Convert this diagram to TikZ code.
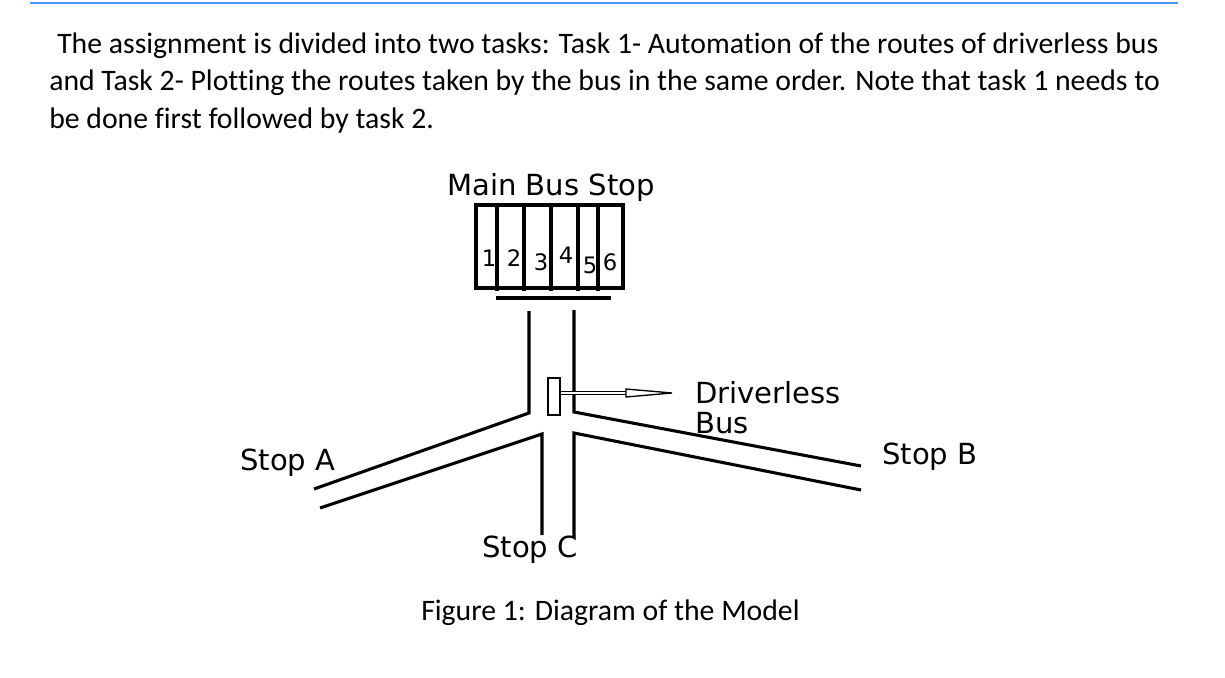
\documentclass[tikz,border=0pt]{standalone}
\usepackage{fontspec}
\setmainfont[Ligatures=NoCommon]{Carlito}
\newfontfamily\lab{DejaVu Sans}
\usetikzlibrary{arrows.meta}
\begin{document}
\begin{tikzpicture}[x=0.75pt,y=-0.75pt,
  road/.style={line width=2.3pt},
  body/.style={anchor=west,inner sep=0pt,font=\fontsize{22.3}{27}\selectfont},
  lbl/.style={font=\lab\fontsize{21.8}{24}\selectfont,inner sep=0pt},
  num/.style={font=\lab\fontsize{17}{19}\selectfont,inner sep=0pt}]
\useasboundingbox (0,0) rectangle (1225,678);
\draw[color=blue!60!cyan!70,line width=1pt] (30,3) -- (1178,3);
\node[body] (t1) at (57,46) {The assignment is divided into two tasks: Task 1- Automation of the routes of driverless bus};
\node[body] (t2) at (49,83) {and Task 2- Plotting the routes taken by the bus in the same order. Note that task 1 needs to};
\node[body] (t3) at (49,121) {be done first followed by task 2.};
\node[lbl,anchor=west] (main) at (447,187) {Main Bus Stop};
\draw[road] (476,205) rectangle (623,288);
\foreach \x in {497,524,551,578,598} \draw[road] (\x,205) -- (\x,291);
\node[num] (n1) at (489,258) {1};
\node[num] (n2) at (514,258) {2};
\node[num] (n3) at (541,262) {3};
\node[num] (n4) at (566,255) {4};
\node[num] (n5) at (590,265) {5};
\node[num] (n6) at (610,262) {6};
\draw[road] (496,298) -- (611,298);
\coordinate (l1) at (529,311); \coordinate (l2) at (529,413);
\coordinate (r1) at (574,310); \coordinate (r2) at (574,412);
\draw[road] (l1) -- (l2) -- (314,489);
\draw[road] (r1) -- (r2) -- (861,466);
\draw[road] (320,508) -- (542,434) -- (542,535);
\draw[road] (574,538) -- (574,433) -- (861,490);
\draw[line width=1.6pt] (548,378) rectangle (560,415);
\coordinate (as) at (561,393);
\coordinate (ae) at (672,393);
\draw[line width=3pt] (as) -- (626,393);
\draw[line width=1.4pt,white] (as) -- (626,393);
\draw[line width=1pt,fill=white] (626,389) -- (ae) -- (626,397) -- cycle;
\node[lbl,anchor=west] (drv) at (695,393) {Driverless};
\node[lbl,anchor=west] (bus) at (695,423) {Bus};
\node[lbl,anchor=west] (sa) at (240,463) {Stop A};
\node[lbl,anchor=west] (sb) at (882,457) {Stop B};
\node[lbl,anchor=west] (sc) at (482,550) {Stop C};
\node[body] (cap) at (421,613) {Figure 1: Diagram of the Model};
\end{tikzpicture}
\end{document}
